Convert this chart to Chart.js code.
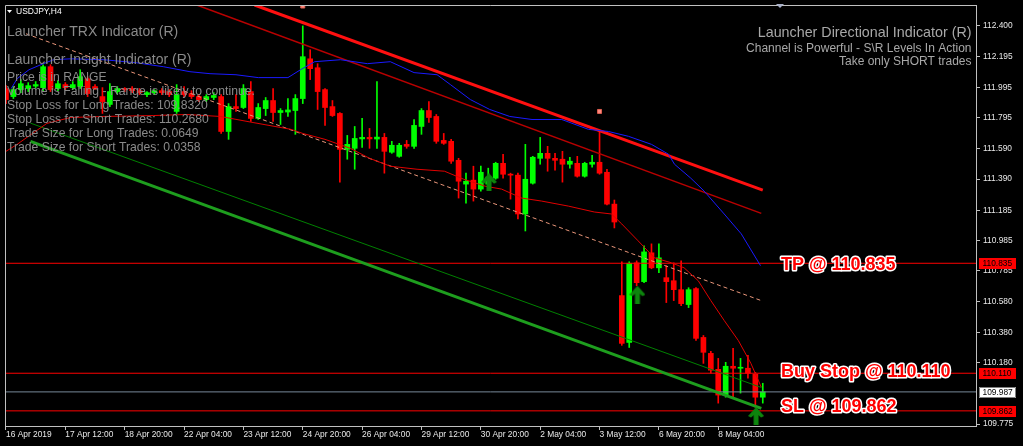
<!DOCTYPE html>
<html>
<head>
<meta charset="utf-8">
<script src="https://cdn.jsdelivr.net/npm/chart.js@4.4.0/dist/chart.umd.min.js"></script>
<style>
  html, body { margin: 0; padding: 0; background: #000; overflow: hidden; }
  #wrap { width: 1023px; height: 446px; }
</style>
</head>
<body>
<div id="wrap"><canvas id="myChart"></canvas></div>
<script>
// USDJPY H4 candles, one per bar index (0 = 16 Apr 04:00)
const opens = [111.987,111.934,111.980,111.987,112.003,111.993,112.131,111.987,112.013,111.993,
  112.000,112.052,112.000,111.934,111.882,111.967,111.987,111.987,111.973,111.947,
  111.960,111.973,111.967,111.836,111.967,111.954,111.934,111.914,111.928,111.934,
  111.704,111.868,111.862,111.967,111.790,111.855,111.908,111.829,111.832,111.842,
  111.921,112.183,112.124,111.980,111.868,111.823,111.586,111.593,111.655,111.665,
  111.654,111.665,111.567,111.540,111.619,111.606,111.737,111.842,111.803,111.645,
  111.639,111.514,111.357,111.383,111.324,111.357,111.396,111.494,111.422,111.416,
  111.160,111.363,111.527,111.560,111.527,111.521,111.488,111.494,111.409,111.488,
  111.501,111.435,111.225,110.622,110.313,110.838,110.714,110.904,110.805,110.740,
  110.720,110.661,110.563,110.668,110.346,110.241,110.136,109.966,110.156,110.143,
  110.143,110.103,109.952];
const highs = [112.006,112.000,112.046,112.026,112.033,112.144,112.144,112.039,112.026,112.033,
  112.111,112.065,112.013,111.993,112.019,112.000,111.993,112.000,111.987,111.967,
  111.980,111.987,111.980,112.013,112.000,111.973,111.947,111.947,111.960,111.947,
  111.888,111.947,112.013,112.033,111.888,111.928,111.987,111.855,111.921,111.947,
  112.400,112.243,112.151,111.987,111.908,111.829,111.678,111.737,111.790,111.724,
  112.033,111.691,111.639,111.626,111.645,111.783,111.855,111.901,111.816,111.691,
  111.652,111.527,111.429,111.475,111.475,111.462,111.501,111.554,111.429,111.429,
  111.619,111.540,111.665,111.606,111.560,111.573,111.534,111.540,111.501,111.547,
  111.711,111.455,111.252,110.845,110.845,110.851,110.950,110.963,110.963,110.819,
  110.838,110.851,110.674,110.674,110.359,110.254,110.208,110.182,110.274,110.208,
  110.228,110.116,110.044];
const lows = [111.888,111.921,111.960,111.967,111.993,111.967,111.967,111.973,111.980,111.980,
  111.987,111.934,111.980,111.823,111.868,111.954,111.967,111.960,111.947,111.934,
  111.947,111.947,111.934,111.823,111.934,111.921,111.901,111.901,111.914,111.691,
  111.652,111.836,111.855,111.770,111.783,111.809,111.770,111.750,111.803,111.685,
  111.888,112.046,111.849,111.744,111.803,111.370,111.521,111.455,111.599,111.593,
  111.593,111.429,111.560,111.534,111.593,111.593,111.685,111.763,111.626,111.619,
  111.494,111.265,111.232,111.245,111.311,111.337,111.389,111.396,111.258,111.127,
  111.048,111.357,111.488,111.442,111.449,111.370,111.462,111.403,111.403,111.468,
  111.422,111.219,111.068,110.294,110.280,110.687,110.707,110.799,110.773,110.576,
  110.589,110.556,110.543,110.326,110.175,110.110,109.913,109.952,109.952,109.979,
  110.077,109.887,109.913];
const closes = [111.914,111.980,112.019,112.006,112.013,112.131,111.980,112.019,111.993,112.013,
  112.065,111.954,111.987,111.901,111.967,111.987,111.980,111.973,111.960,111.960,
  111.973,111.960,111.947,111.947,111.947,111.934,111.914,111.934,111.941,111.704,
  111.868,111.855,111.987,111.790,111.862,111.908,111.829,111.842,111.846,111.921,
  112.197,112.118,111.967,111.862,111.809,111.586,111.619,111.658,111.665,111.655,
  111.667,111.573,111.613,111.613,111.606,111.744,111.842,111.796,111.639,111.626,
  111.508,111.376,111.376,111.324,111.435,111.403,111.494,111.422,111.416,111.160,
  111.389,111.534,111.560,111.527,111.514,111.488,111.508,111.409,111.494,111.501,
  111.429,111.225,111.107,110.307,110.835,110.707,110.910,110.805,110.871,110.714,
  110.661,110.569,110.661,110.340,110.248,110.130,109.966,110.156,110.143,110.149,
  110.110,109.952,109.987];

// axis ticks
const yTicks = [112.400,112.195,111.995,111.795,111.590,111.390,111.185,110.985,110.785,110.580,110.380,110.180,109.775];
const xTickIdx = [0,8,16,24,32,40,48,56,64,72,80,88,96];
const xTickLabels = ['16 Apr 2019','17 Apr 12:00','18 Apr 20:00','22 Apr 04:00','23 Apr 12:00','24 Apr 20:00',
  '26 Apr 04:00','29 Apr 12:00','30 Apr 20:00','2 May 04:00','3 May 12:00','6 May 20:00','8 May 04:00'];

// indicator curves (bar index, price)
const blueIdx = [0.7,1.5,3.1,4.7,6.4,8.7,13.2,17.6,21.2,24.8,27.5,31,34,38,39.7,41.6,45.1,48.7,51.8,55,58.1,59.9,62.6,65.2,67.9,70.9,74.9,78.5,81.2,83.9,87,89.3,90.1,92.3,94.1,96.8,99.1,101.7];
const bluePrice = [111.987,112.052,112.111,112.144,112.177,112.183,112.177,112.157,112.131,112.098,112.085,112.078,112.059,112.059,112.111,112.164,112.177,112.151,112.164,112.092,112.078,112.013,111.914,111.849,111.803,111.783,111.783,111.718,111.704,111.672,111.619,111.554,111.488,111.396,111.311,111.160,111.029,110.819];
const redIdx = [0,1.5,3.4,5.5,8.7,13.2,19.9,24.3,28.9,33.3,38.4,40,43,46.4,49,51.8,55.4,59.1,61.7,64.6,66.8,69.5,72.2,75.8,79.3,81.6,83,85.2,87.4,89.7,91.4,93.3,95,96.8,98.7,100.4,101.8];
const redPrice = [111.573,111.619,111.685,111.757,111.796,111.803,111.809,111.816,111.803,111.763,111.718,111.691,111.652,111.593,111.527,111.475,111.455,111.442,111.389,111.343,111.324,111.265,111.245,111.212,111.173,111.160,111.094,110.983,110.871,110.838,110.805,110.720,110.589,110.458,110.326,110.175,110.018];

// channel lines (start / end)
const chanRedThickIdx = [33.5, 102];    const chanRedThickPrice = [112.538, 111.317];
const chanRedThinIdx = [25.7, 101.8];   const chanRedThinPrice = [112.538, 111.164];
const chanMidIdx = [2.7, 101.8];        const chanMidPrice = [112.348, 110.589];
const chanGreenThinIdx = [3.3, 101.8];  const chanGreenThinPrice = [111.759, 110.016];
const chanGreenThickIdx = [3.3, 101.8]; const chanGreenThickPrice = [111.639, 109.878];

// horizontal levels
const levelPrices = [110.835, 110.110, 109.987, 109.862];
const levelColors = ['#ff0000', '#ff0000', '#778899', '#ff0000'];
const levelTexts = ['TP @ 110.835', 'Buy Stop @ 110.110', null, 'SL @ 109.862'];

// markers
const fractalIdx = [40, 80];       const fractalPrice = [112.531, 111.836];
const arrowIdx = [65.1, 85.1, 101.1]; const arrowPrice = [111.370, 110.628, 109.828];

const X_MIN = -0.134, X_MAX = 130.74;
const Y_MIN = 109.7622, Y_MAX = 112.5378;

const pts = (xs, ys) => xs.map((v, i) => ({x: v, y: ys[i]}));
const bull = i => closes[i] >= opens[i];

// up arrow image for the signal markers
const arrowImg = document.createElement('canvas');
arrowImg.width = 16; arrowImg.height = 18;
(function () {
  const c = arrowImg.getContext('2d');
  c.fillStyle = '#0d850d';
  c.beginPath();
  c.moveTo(8, 0);
  c.lineTo(16, 9);
  c.lineTo(13, 10.5);
  c.lineTo(8, 6);
  c.lineTo(3, 10.5);
  c.lineTo(0, 9);
  c.closePath();
  c.fill();
  c.fillRect(5.5, 3, 5, 15);
})();

function lineDs(xs, ys, color, width, extra) {
  return Object.assign({
    type: 'line', data: pts(xs, ys), borderColor: color, borderWidth: width,
    pointRadius: 0, fill: false, tension: 0, order: 1
  }, extra || {});
}

const datasets = [
  {
    type: 'bar', label: 'wick', grouped: false, order: 10, barThickness: 1,
    data: opens.map((o, i) => ({x: i, y: [lows[i], highs[i]]})),
    backgroundColor: c => bull(c.dataIndex) ? '#00ff00' : '#ff0000'
  },
  {
    type: 'bar', label: 'body', grouped: false, order: 9, barThickness: 5, minBarLength: 1,
    data: opens.map((o, i) => ({x: i, y: [Math.min(o, closes[i]), Math.max(o, closes[i])]})),
    backgroundColor: c => bull(c.dataIndex) ? '#00ff00' : '#ff0000'
  },
  lineDs(blueIdx, bluePrice, '#1a1aff', 1),
  lineDs(redIdx, redPrice, '#e00000', 1),
  lineDs(chanRedThickIdx, chanRedThickPrice, '#ff1010', 3),
  lineDs(chanRedThinIdx, chanRedThinPrice, '#b80000', 1.5),
  lineDs(chanMidIdx, chanMidPrice, '#e9967a', 1, {borderDash: [4, 3]}),
  lineDs(chanGreenThinIdx, chanGreenThinPrice, '#008000', 1),
  lineDs(chanGreenThickIdx, chanGreenThickPrice, '#1e9e1e', 3),
];
levelPrices.forEach((p, i) => {
  datasets.push(lineDs([X_MIN, X_MAX], [p, p], levelColors[i], 1, {order: 2}));
});
datasets.push({
  type: 'scatter', data: pts(fractalIdx, fractalPrice), pointStyle: 'rect', pointRadius: 2.8,
  backgroundColor: '#ff8a80', borderColor: '#e06050', borderWidth: 1, order: 0
});
datasets.push({
  type: 'scatter', data: pts(arrowIdx, arrowPrice), pointStyle: arrowImg, order: 0
});

const overlay = {
  id: 'overlay',
  afterDraw(chart) {
    const {ctx, chartArea: a, scales: {y}} = chart;
    ctx.save();
    // frame top/left
    ctx.strokeStyle = '#c0c0c0';
    ctx.lineWidth = 1;
    ctx.beginPath();
    ctx.moveTo(a.left + 0.5, a.bottom);
    ctx.lineTo(a.left + 0.5, a.top + 0.5);
    ctx.lineTo(a.right, a.top + 0.5);
    ctx.stroke();

    // symbol
    ctx.fillStyle = '#ffffff';
    ctx.beginPath(); ctx.moveTo(7, 10); ctx.lineTo(12, 10); ctx.lineTo(9.5, 13); ctx.closePath(); ctx.fill();
    ctx.font = '8.5px "Liberation Sans"';
    ctx.textBaseline = 'alphabetic';
    ctx.fillText('USDJPY,H4', 16, 14);

    // shift marker
    ctx.fillStyle = '#a8b0c8';
    ctx.beginPath(); ctx.moveTo(776, 4); ctx.lineTo(784, 4); ctx.lineTo(780, 8); ctx.closePath(); ctx.fill();

    // indicator texts left
    ctx.fillStyle = '#8a8a8a';
    ctx.textAlign = 'left';
    ctx.font = '14px "Liberation Sans"';
    ctx.fillText('Launcher TRX Indicator (R)', 7, 36);
    ctx.fillText('Launcher Insight Indicator (R)', 7, 64);
    ctx.font = '12.2px "Liberation Sans"';
    const lines = ['Price is in RANGE', 'Volume is Falling - Range is likely to continue.',
      'Stop Loss for Long Trades: 109.8320', 'Stop Loss for Short Trades: 110.2680',
      'Trade Size for Long Trades: 0.0649', 'Trade Size for Short Trades: 0.0358'];
    lines.forEach((t, i) => ctx.fillText(t, 7, 81 + i * 13.9));

    // indicator texts right
    ctx.fillStyle = '#a8a8a8';
    ctx.textAlign = 'right';
    ctx.font = '14.3px "Liberation Sans"';
    ctx.fillText('Launcher Directional Indicator (R)', 971.5, 36.7);
    ctx.font = '12px "Liberation Sans"';
    ctx.fillText('Channel is Powerful - S\\R Levels In Action', 971.5, 52);
    ctx.fillText('Take only SHORT trades', 971.5, 65);

    // level labels on chart
    const dy = [1.7, -1.3, 0, -4];
    ctx.textAlign = 'left';
    ctx.textBaseline = 'middle';
    ctx.font = 'bold 18px "Liberation Sans"';
    ctx.lineJoin = 'round';
    levelTexts.forEach((t, i) => {
      if (!t) return;
      const py = y.getPixelForValue(levelPrices[i]) + dy[i];
      ctx.strokeStyle = '#ffffff';
      ctx.lineWidth = 3;
      ctx.strokeText(t, 781, py);
      ctx.fillStyle = '#ff0000';
      ctx.fillText(t, 781, py);
    });

    // price boxes on axis
    ctx.font = '8.4px "Liberation Sans"';
    levelPrices.forEach((p, i) => {
      const py = Math.round(y.getPixelForValue(p));
      const grayBox = levelColors[i] !== '#ff0000';
      ctx.fillStyle = grayBox ? '#ffffff' : '#ff0000';
      ctx.fillRect(979, py - 5, 37, 11);
      if (grayBox) {
        ctx.strokeStyle = '#808080'; ctx.lineWidth = 1;
        ctx.strokeRect(979.5, py - 4.5, 36, 10);
      }
      ctx.fillStyle = '#000000';
      ctx.fillText(p.toFixed(3), 982.5, py + 0.5);
    });
    ctx.restore();
  }
};

const myChart = new Chart(document.getElementById('myChart'), {
  type: 'bar',
  data: {datasets: datasets},
  options: {
    responsive: true,
    maintainAspectRatio: false,
    animation: false,
    events: [],
    layout: {padding: {left: 1, top: 3, right: 0, bottom: 0}},
    plugins: {legend: {display: false}, tooltip: {enabled: false}},
    scales: {
      x: {
        type: 'linear', min: X_MIN, max: X_MAX, offset: false,
        grid: {drawOnChartArea: false, offset: false, tickLength: 4, color: '#c0c0c0'},
        border: {color: '#c0c0c0'},
        afterBuildTicks: s => { s.ticks = xTickIdx.map(v => ({value: v})); },
        ticks: {
          autoSkip: false, maxRotation: 0, align: 'start', padding: 0, color: '#e8e8e8',
          font: {size: 8.4, family: '"Liberation Sans"'},
          callback: (v, i) => xTickLabels[i]
        },
        afterFit: s => { s.height = 20; s.paddingLeft = 0; s.paddingRight = 0; }
      },
      y: {
        position: 'right', min: Y_MIN, max: Y_MAX,
        grid: {drawOnChartArea: false, tickLength: 4, color: '#c0c0c0'},
        border: {color: '#c0c0c0'},
        afterBuildTicks: s => { s.ticks = yTicks.map(v => ({value: v})); },
        ticks: {
          padding: 3, color: '#e8e8e8', font: {size: 8.4, family: '"Liberation Sans"'},
          callback: v => Number(v).toFixed(3)
        },
        afterFit: s => { s.width = 47; s.paddingTop = 0; s.paddingBottom = 0; }
      }
    }
  },
  plugins: [overlay]
});
</script>
</body>
</html>
